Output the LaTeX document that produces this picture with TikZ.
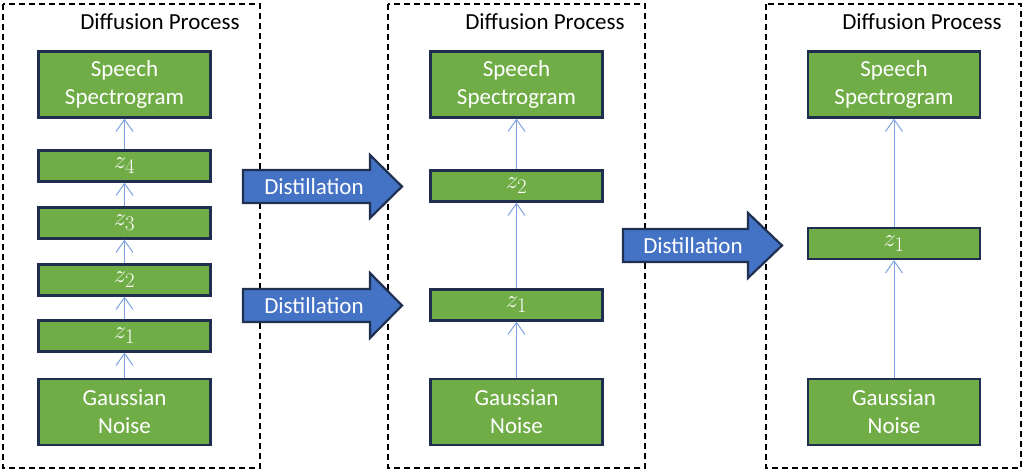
\documentclass[tikz,border=0pt]{standalone}
\usepackage{fontspec}
\setmainfont{Carlito}
\usetikzlibrary{arrows.meta}
\definecolor{gfill}{HTML}{70AD47}
\definecolor{gline}{HTML}{1F2D4F}
\definecolor{bfill}{HTML}{4472C4}
\definecolor{bline}{HTML}{1F3050}
\definecolor{conn}{HTML}{7FA3E0}
\newcommand\zlab[1]{\fontsize{28}{30}\selectfont$z_{#1}$}
\tikzset{
  panel/.style={draw=black, dashed, dash pattern=on 6pt off 4pt, line width=2.8pt},
  gbox/.style={draw=gline, fill=gfill, line width=2.2pt, text=white, font=\fontsize{23}{28}\selectfont, align=center, minimum width=172pt, inner sep=0pt},
  tallbox/.style={gbox, minimum height=66pt},
  zbox/.style={gbox, minimum height=31pt},
  conn/.style={draw=conn, line width=1pt, -{Straight Barb[length=12pt,width=17pt,line width=1pt]}},
  distarrow/.style={draw=bline, fill=bfill, line width=2.2pt, line join=miter},
  disttext/.style={text=white, font=\fontsize{23}{28}\selectfont},
  title/.style={font=\fontsize{23}{28}\selectfont, text=black}
}
\begin{document}
\begin{tikzpicture}[x=1pt,y=-1pt]
\useasboundingbox (0,0) rectangle (1024,473);
% panels
\draw[panel] (3,4) rectangle (260,468);
\draw[panel] (388,4) rectangle (645,468);
\draw[panel] (766,4) rectangle (1021,468);
\node[title] (t1) at (160,22) {Diffusion Process};
\node[title] (t2) at (545,22) {Diffusion Process};
\node[title] (t3) at (922,22) {Diffusion Process};
% panel 1
\node[tallbox] (s1) at (124.5,84.5) {Speech\\Spectrogram};
\node[zbox] (a4) at (124.5,166) {\zlab{4}};
\node[zbox] (a3) at (124.5,223) {\zlab{3}};
\node[zbox] (a2) at (124.5,280) {\zlab{2}};
\node[zbox] (a1) at (124.5,336) {\zlab{1}};
\node[tallbox] (g1) at (124.5,412) {Gaussian\\Noise};
\draw[conn] (g1) -- (a1);
\draw[conn] (a1) -- (a2);
\draw[conn] (a2) -- (a3);
\draw[conn] (a3) -- (a4);
\draw[conn] (a4) -- (s1);
% panel 2
\node[tallbox] (s2) at (516.5,84.5) {Speech\\Spectrogram};
\node[zbox] (b2) at (516.5,186) {\zlab{2}};
\node[zbox] (b1) at (516.5,305) {\zlab{1}};
\node[tallbox] (g2) at (516.5,412) {Gaussian\\Noise};
\draw[conn] (g2) -- (b1);
\draw[conn] (b1) -- (b2);
\draw[conn] (b2) -- (s2);
% panel 3
\node[tallbox] (s3) at (894,84.5) {Speech\\Spectrogram};
\node[zbox] (c1) at (894,243.5) {\zlab{1}};
\node[tallbox] (g3) at (894,412) {Gaussian\\Noise};
\draw[conn] (g3) -- (c1);
\draw[conn] (c1) -- (s3);
% distillation arrows
\draw[distarrow] (243,170) -- (370,170) -- (370,155) -- (402,186.5) -- (370,218) -- (370,203) -- (243,203) -- cycle;
\node[disttext] (d1) at (314,186.5) {Distillation};
\draw[distarrow] (243,289) -- (370,289) -- (370,273) -- (402,305.5) -- (370,338) -- (370,322) -- (243,322) -- cycle;
\node[disttext] (d2) at (314,305.5) {Distillation};
\draw[distarrow] (623,229) -- (748,229) -- (748,213) -- (782,245.5) -- (748,278) -- (748,262) -- (623,262) -- cycle;
\node[disttext] (d3) at (693,245.5) {Distillation};
\end{tikzpicture}
\end{document}
